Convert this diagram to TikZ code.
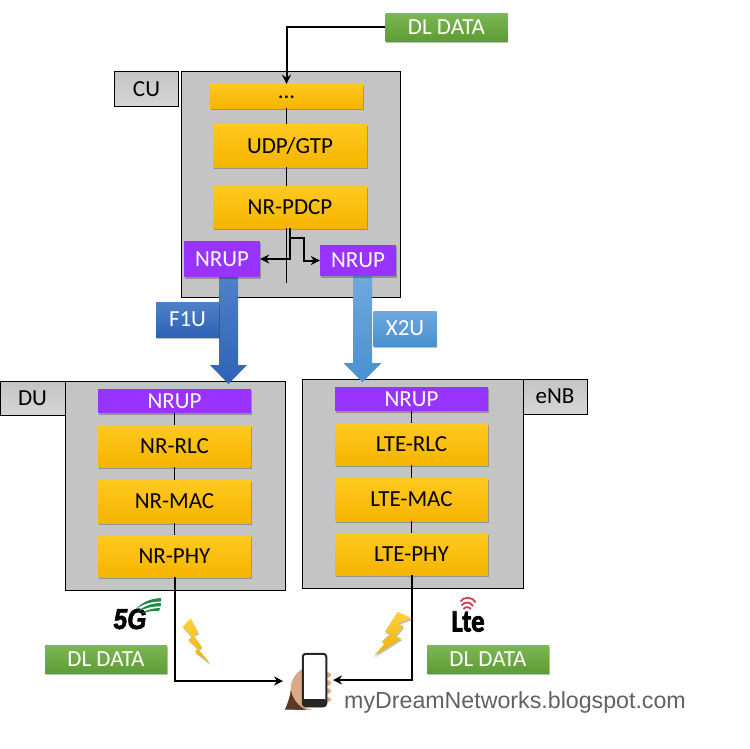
\documentclass[tikz,border=0pt]{standalone}
\usepackage{fontspec}
\setmainfont{Carlito}
\newfontfamily\webfont{Liberation Sans}
\newfontfamily\fivegfont[FakeBold=2]{Liberation Sans Bold Italic}
\newfontfamily\ltefont[FakeBold=2.5]{Carlito Bold}
\usetikzlibrary{shadows,calc,arrows.meta}
\definecolor{panelgray}{HTML}{C4C4C4}
\definecolor{purplebox}{HTML}{9933FF}
\definecolor{layertop}{HTML}{FFC91F}
\definecolor{layerbot}{HTML}{F5B400}
\definecolor{green1}{HTML}{7CB752}
\definecolor{green2}{HTML}{5E9C35}
\definecolor{boltA}{HTML}{FFD040}
\definecolor{boltB}{HTML}{EEB000}
\definecolor{xtop}{HTML}{6FA8DC}
\definecolor{xbot}{HTML}{4A90D0}
\definecolor{ftop}{HTML}{4F81C7}
\definecolor{fbot}{HTML}{2E62B5}
\definecolor{handskin}{HTML}{D9A988}
\definecolor{handdark}{HTML}{5A3A26}
\definecolor{logogreen}{HTML}{1E8A45}
\definecolor{logored}{HTML}{D2404F}
\tikzset{
  softshadow/.style={drop shadow={shadow xshift=.8pt,shadow yshift=-1.8pt,opacity=.25,fill=black}},
  boxfont/.style={font=\fontsize{23}{26}\selectfont},
  panel/.style={draw=black,line width=.9pt,fill=panelgray,inner sep=0pt},
  tag/.style={draw=black,line width=.9pt,top color=panelgray,bottom color=panelgray!70!white,inner sep=0pt,boxfont,text=black},
  layerA/.style={softshadow,top color=layertop,bottom color=layerbot,inner sep=0pt,boxfont,text=black,minimum width=153pt},
  nrup/.style={softshadow,fill=purplebox,inner sep=0pt,boxfont,text=white},
  data/.style={softshadow,top color=green1,bottom color=green2,inner sep=0pt,minimum width=122pt,minimum height=28pt,boxfont,text=white},
  iflabel/.style={softshadow,inner sep=0pt,minimum width=63pt,minimum height=35pt,boxfont,text=white},
  wire/.style={draw=black,line width=2pt},
  thinwire/.style={draw=black,line width=1.6pt},
  flow/.style={wire,-{Stealth[length=9pt,width=9pt]}},
  bolt/.style={top color=boltA,bottom color=boltB,draw=none,softshadow}
}
\begin{document}
\begin{tikzpicture}[x=1pt,y=-1pt]
\useasboundingbox (0,0) rectangle (750,748);
% panels
\node[panel,minimum width=219pt,minimum height=226pt] (cu) at (290.5,184) {};
\node[tag,minimum width=64pt,minimum height=35pt] (culabel) at (146.5,89) {CU};
\node[panel,minimum width=220pt,minimum height=209pt] (du) at (175,485.5) {};
\node[tag,minimum width=65pt,minimum height=34pt] (dulabel) at (32.5,398) {DU};
\node[panel,minimum width=221pt,minimum height=209pt] (enb) at (412.5,483.5) {};
\node[tag,minimum width=64pt,minimum height=35pt] (enblabel) at (555,396.5) {eNB};
% thick arrows
\coordinate (fa) at (228.5,277);
\coordinate (fb) at (228.5,384);
\coordinate (xa) at (362.5,276);
\coordinate (xb) at (362.5,382);
\path[top color=ftop,bottom color=fbot] (fa) ++(-9.5,0) -- ++(19,0) -- ($(fb)+(9.5,-19)$) -- ($(fb)+(18.5,-19)$) -- (fb) -- ($(fb)+(-18.5,-19)$) -- ($(fb)+(-9.5,-19)$) -- cycle;
\path[top color=xtop,bottom color=xbot] (xa) ++(-9.5,0) -- ++(19,0) -- ($(xb)+(9.5,-19)$) -- ($(xb)+(19,-19)$) -- (xb) -- ($(xb)+(-19,-19)$) -- ($(xb)+(-9.5,-19)$) -- cycle;
\node[iflabel,top color=ftop,bottom color=fbot] (f1u) at (187.5,319.5) {F1U};
\node[iflabel,top color=xtop,bottom color=xbot] (x2u) at (405,328.5) {X2U};
% CU stack
\node[layerA,minimum height=24pt] (dots) at (286.5,96) {\raisebox{-5pt}{...}};
\node[layerA,minimum width=154pt,minimum height=43pt] (udp) at (290,145.5) {UDP/GTP};
\node[layerA,minimum width=154pt,minimum height=42pt] (pdcp) at (290,207) {NR-PDCP};
\node[nrup,minimum width=76pt,minimum height=36pt] (nrupl) at (222,259) {NRUP};
\node[nrup,minimum width=76pt,minimum height=31pt] (nrupr) at (358,260.5) {NRUP};
\node[data] (dltop) at (446.5,27) {DL DATA};
\coordinate (cuend) at (286.5,283);
\coordinate (tapl) at (290,228);
\coordinate (tapr) at (290,238);
\coordinate (turn) at (304,238);
\draw[flow] (dltop.west) -| (dots.north);
\draw[thinwire] (dots.south) -- (dots.south |- udp.north);
\draw[thinwire] (dots.south |- udp.south) -- (dots.south |- pdcp.north);
\draw[thinwire] (dots.south |- pdcp.south) -- (cuend);
\draw[flow] (tapl) -- (tapl |- nrupl.east) -- (nrupl.east);
\draw[flow] (tapr) -- (turn) -- (turn |- nrupr.west) -- (nrupr.west);
% DU stack
\node[nrup,minimum width=153pt,minimum height=24pt] (dunrup) at (174.5,401) {NRUP};
\node[layerA,minimum height=42pt] (rlc) at (174.5,446) {NR-RLC};
\node[layerA,minimum height=43pt] (mac) at (174.5,501.5) {NR-MAC};
\node[layerA,minimum height=42pt] (phy) at (174.5,556) {NR-PHY};
% eNB stack
\node[nrup,minimum width=153pt,minimum height=24pt] (enbnrup) at (411.5,399) {NRUP};
\node[layerA,minimum height=42pt] (lrlc) at (411.5,444) {LTE-RLC};
\node[layerA,minimum height=43pt] (lmac) at (411.5,499.5) {LTE-MAC};
\node[layerA,minimum height=42pt] (lphy) at (411.5,554) {LTE-PHY};
\draw[thinwire] (dunrup.south) -- (rlc.north) (rlc.south) -- (mac.north) (mac.south) -- (phy.north);
\draw[thinwire] (enbnrup.south) -- (lrlc.north) (lrlc.south) -- (lmac.north) (lmac.south) -- (lphy.north);
% bottom data
\node[data] (dll) at (106,659) {DL DATA};
\node[data] (dlr) at (488,659) {DL DATA};
% hand and phone
\fill[handskin] (285,709.5) .. controls (289,700) and (291,692) .. (291,684) .. controls (293,677) and (297,672) .. (302,669) -- (306,708) -- (313,710) -- cycle;
\fill[handdark] (285,709.5) .. controls (288,703) and (290,697) .. (291,690) .. controls (292,698) and (298,706) .. (306,710) -- cycle;
\foreach \ytop/\ybot in {672/678,680/686,688/694,697/702}
  \fill[handskin] (326,\ytop) .. controls (333,\ytop) and (333,\ybot) .. (326,\ybot) -- cycle;
\node[draw=black!85,line width=2pt,fill=white,rounded corners=3pt,minimum width=23.5pt,minimum height=52.5pt,inner sep=0pt] (phone) at (314.5,680) {};
\fill[black!85,rounded corners=2pt] (303,699) rectangle (326,707);
\coordinate (phl) at (283,681);
\coordinate (phr) at (333,680);
\draw[flow] (phy.south) |- (phl);
\draw[flow] (lphy.south) |- (phr);
% bolts
\path[bolt] (182.7,626.7) -- (190.7,618.3) -- (198.3,632.7) -- (193.3,635) -- (201.7,646.7) -- (198.3,649.3) -- (210,663.3) -- (195,651.7) -- (197.7,648.3) -- (188.3,640) -- (191.7,636.7) -- cycle;
\path[bolt] (411.7,618.3) -- (397.7,611.7) -- (385,631.7) -- (390.7,633.3) -- (381.7,641.7) -- (385,643.3) -- (374,655.7) -- (401.7,638.3) -- (395,636.7) -- (403.3,626) -- (397.7,623.3) -- cycle;
% logos
\node[inner sep=0pt,xscale=.85,font=\fivegfont\fontsize{29}{30}\selectfont,text=black] (fiveg) at (130,619) {5G};
\fill[logogreen] (136,609) .. controls (142,602) and (151,598.5) .. (161,598) -- (161,601.5) .. controls (151,601.5) and (142,604.5) .. cycle;
\fill[logogreen] (138,611.5) .. controls (144,606) and (152,603) .. (161,603) -- (160.5,606.5) .. controls (152,606) and (146,608) .. cycle;
\fill[logogreen] (141,613.5) .. controls (146,610) and (153,608) .. (160,608) -- (159,611) .. controls (153,610.5) and (148,611.5) .. cycle;
\node[inner sep=0pt,xscale=.86,font=\ltefont\fontsize{31}{32}\selectfont,text=black] (lte) at (468,621.5) {Lte};
\draw[logored,line width=1.8pt] (463.5,609) .. controls (465,606.5) and (469,606.5) .. (471,609);
\draw[logored,line width=1.8pt] (461.5,605.5) .. controls (464,601.5) and (470.5,601.5) .. (473,606);
\draw[logored,line width=1.8pt] (460.5,601.5) .. controls (463.5,596.5) and (472,596) .. (475.5,602.5);
\node[inner sep=0pt,anchor=west,font=\webfont\fontsize{23.2}{26}\selectfont,text=black!62] (blog) at (344,702) {myDreamNetworks.blogspot.com};
\end{tikzpicture}
\end{document}
